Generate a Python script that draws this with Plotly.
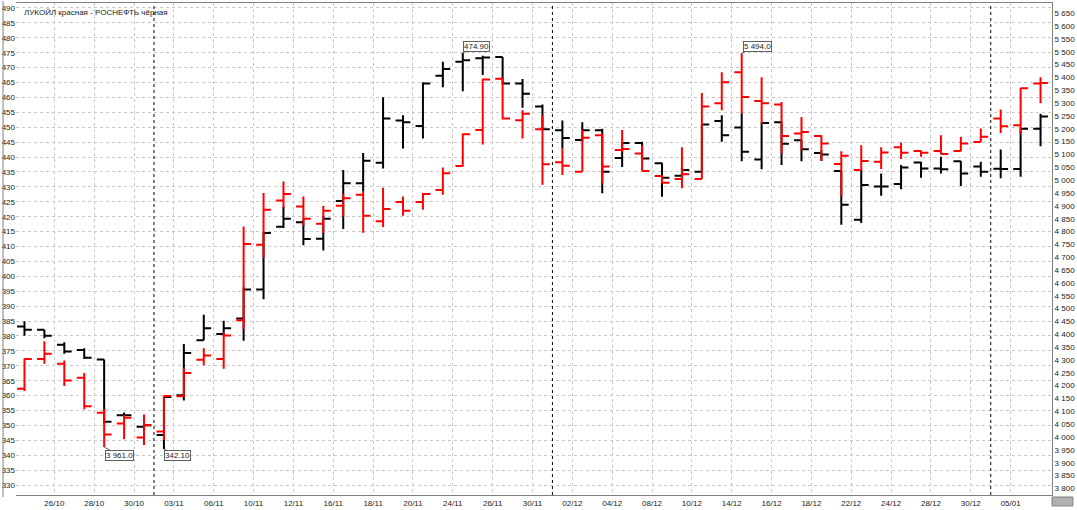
import plotly.graph_objects as go

# ---- data ----
dates = ["22/10", "23/10", "26/10", "27/10", "28/10", "29/10", "30/10", "02/11", "03/11", "05/11",
         "06/11", "09/11", "10/11", "11/11", "12/11", "13/11", "16/11", "17/11", "18/11", "19/11",
         "20/11", "23/11", "24/11", "25/11", "26/11", "27/11", "30/11", "01/12", "02/12", "03/12",
         "04/12", "07/12", "08/12", "09/12", "10/12", "11/12", "14/12", "15/12", "16/12", "17/12",
         "18/12", "21/12", "22/12", "23/12", "24/12", "25/12", "28/12", "29/12", "30/12", "04/01",
         "05/01", "06/01"]

# РОСНЕФТЬ (black, left axis)
ros_open = [383.2, 382.1, 377.1, 375.3, 372.1, 353.4, 349.6, 346.8, 360.1, 378.6,
            380.7, 385.9, 395.6, 416.6, 418.1, 412.6, 425.3, 431.2, 438.1, 452.3,
            450.4, 467.3, 472.0, 473.1, 473.6, 464.7, 457.0, 449.0, 445.7, 449.0,
            439.7, 444.7, 437.9, 433.7, 435.1, 452.1, 449.9, 439.2, 451.7, 445.6,
            441.4, 435.3, 419.0, 430.1, 431.0, 438.2, 436.2, 438.6, 436.8, 436.1,
            436.0, 449.5]
ros_high = [384.9, 382.1, 377.9, 375.9, 372.1, 354.3, 351.2, 359.7, 377.3, 387.1,
            385.1, 396.3, 414.8, 423.3, 419.0, 420.3, 435.7, 441.4, 460.1, 454.0,
            465.1, 472.0, 474.9, 474.0, 473.6, 466.2, 457.6, 452.3, 451.7, 449.5,
            445.1, 445.1, 438.1, 436.3, 451.0, 454.0, 454.7, 451.6, 451.9, 445.6,
            442.3, 435.5, 436.0, 434.5, 437.3, 438.4, 440.1, 438.7, 438.4, 442.5,
            449.7, 454.5]
ros_low = [380.1, 379.2, 374.0, 372.3, 350.6, 352.7, 349.2, 342.1, 358.4, 378.6,
           380.7, 378.4, 392.3, 416.2, 410.4, 408.7, 415.9, 428.4, 436.2, 442.9,
           446.2, 463.4, 462.1, 467.5, 464.3, 456.5, 449.0, 442.9, 445.3, 427.9,
           436.7, 439.5, 426.7, 432.3, 435.0, 445.1, 438.6, 435.9, 437.3, 438.6,
           438.7, 417.3, 417.9, 427.0, 429.2, 433.1, 434.5, 430.3, 433.4, 432.9,
           433.4, 443.6]
ros_close = [382.1, 380.1, 374.8, 372.7, 351.2, 353.4, 350.1, 359.5, 374.3, 382.6,
             382.6, 395.6, 414.5, 419.3, 412.5, 419.3, 431.2, 438.8, 452.9, 451.7,
             464.7, 469.5, 472.5, 473.4, 464.7, 461.2, 449.3, 446.4, 449.0, 435.1,
             444.7, 439.5, 433.1, 435.7, 450.9, 447.3, 441.8, 451.4, 444.5, 442.6,
             440.9, 424.0, 430.6, 430.1, 436.5, 436.2, 435.9, 434.5, 435.1, 436.0,
             449.5, 453.6]

# ЛУКОЙЛ (red, right axis)
luk_open = [4188, 4304, 4285, 4231, 4094, 4053, 3998, 4021, 4159, 4301,
            4304, 4455, 4749, 4921, 4898, 4830, 4900, 4943, 4840, 4915,
            4915, 4962, 5055, 5195, 5395, 5233, 5198, 5070, 5033, 5175,
            5118, 5104, 5016, 5005, 5005, 5300, 5420, 5308, 5295, 5182,
            5172, 5063, 5040, 5072, 5128, 5114, 5114, 5114, 5149, 5240,
            5214, 5376]
luk_high = [4307, 4373, 4298, 4249, 4108, 4085, 4088, 4162, 4268, 4346,
            4408, 4820, 4950, 4995, 4936, 4900, 4947, 4956, 4971, 4936,
            4950, 5049, 5182, 5395, 5397, 5272, 5253, 5124, 5195, 5182,
            5195, 5136, 5018, 5128, 5339, 5420, 5494, 5401, 5304, 5246,
            5175, 5113, 5136, 5128, 5147, 5117, 5175, 5169, 5201, 5275,
            5360, 5401]
luk_low = [4179, 4285, 4199, 4108, 3961, 3991, 3969, 3988, 4156, 4279,
           4266, 4421, 4698, 4892, 4821, 4795, 4859, 4795, 4818, 4862,
           4885, 4943, 5053, 5139, 5236, 5162, 4982, 5020, 5033, 4988,
           5111, 5036, 4988, 4969, 5005, 5272, 5259, 5220, 5104, 5117,
           5075, 4936, 5040, 5044, 5082, 5091, 5101, 5113, 5149, 5184,
           5182, 5300]
luk_close = [4304, 4324, 4220, 4120, 4010, 4075, 4046, 4160, 4249, 4317,
             4395, 4752, 4885, 4946, 4850, 4881, 4930, 4862, 4888, 4881,
             4946, 5027, 5179, 5392, 5240, 5259, 5062, 5056, 5165, 5053,
             5121, 5036, 4990, 5023, 5287, 5381, 5324, 5300, 5172, 5188,
             5143, 5095, 5075, 5108, 5107, 5107, 5102, 5143, 5169, 5210,
             5358, 5378]

left_ticks = list(range(330, 491, 5))
right_ticks = list(range(3800, 5651, 50))
month_starts = ["02/11", "01/12", "04/01"]

# ---- figure ----
idx = list(range(len(dates)))
FONT = "Liberation Sans Narrow, Liberation Sans, Arial, sans-serif"

fig = go.Figure()
fig.add_trace(go.Ohlc(
    x=idx, open=ros_open, high=ros_high, low=ros_low, close=ros_close,
    increasing=dict(line=dict(color="#000000", width=2)),
    decreasing=dict(line=dict(color="#000000", width=2)),
    tickwidth=0.37, yaxis="y", hoverinfo="skip", name="РОСНЕФТЬ"))
fig.add_trace(go.Ohlc(
    x=idx, open=luk_open, high=luk_high, low=luk_low, close=luk_close,
    increasing=dict(line=dict(color="#ff0000", width=2)),
    decreasing=dict(line=dict(color="#ff0000", width=2)),
    tickwidth=0.37, yaxis="y2", hoverinfo="skip", name="ЛУКОЙЛ"))

tick_idx = [i for i in idx if i % 2 == 0 and i >= 2]
fig.update_xaxes(
    range=[-0.425, 51.575], tickmode="array",
    tickvals=[i - 0.5 for i in tick_idx], ticktext=[dates[i] for i in tick_idx],
    showgrid=True, gridcolor="#c8c8c8", griddash="dot", gridwidth=1,
    showline=True, linecolor="#808080", linewidth=1, mirror=True,
    ticks="", zeroline=False, rangeslider=dict(visible=False),
    tickfont=dict(family=FONT, size=8, color="#222222"))

fig.update_layout(
    yaxis=dict(range=[326.67, 491.67], tickmode="array", tickvals=left_ticks,
               ticktext=[str(v) for v in left_ticks],
               showgrid=True, gridcolor="#c8c8c8", griddash="dot", gridwidth=1,
               zeroline=False, ticks="", showline=False, ticklabeloverflow="allow",
               tickfont=dict(family=FONT, size=8, color="#222222")),
    yaxis2=dict(range=[3774.2, 5689.9], overlaying="y", side="right",
                tickmode="array", tickvals=right_ticks,
                ticktext=[f"{v // 1000} {v % 1000:03d}" for v in right_ticks],
                showgrid=False, zeroline=False, ticks="", ticklabeloverflow="allow",
                showline=True, linecolor="#808080", linewidth=1,
                tickfont=dict(family=FONT, size=8, color="#222222")),
    width=1077, height=510,
    margin=dict(l=14, r=23, t=2, b=13),
    paper_bgcolor="white", plot_bgcolor="white",
    showlegend=False,
)

# month separators
for d in month_starts:
    xm = dates.index(d) - 0.5
    fig.add_shape(type="line", xref="x", yref="paper", x0=xm, x1=xm, y0=0, y1=1,
                  line=dict(color="#000000", width=1, dash="dot"))

# left frame line
fig.add_shape(type="line", xref="paper", yref="paper", x0=-13 / 1040, x1=-13 / 1040,
              y0=-0.004, y1=1.004, line=dict(color="#808080", width=1))
# small box bottom right
fig.add_shape(type="rect", xref="paper", yref="paper", x0=(1054 - 14) / 1040,
              x1=(1075 - 14) / 1040, y0=-2 / 495, y1=-11 / 495,
              fillcolor="#b0b0b0", line=dict(color="#808080", width=1))

# title
fig.add_annotation(text="ЛУКОЙЛ красная - РОСНЕФТЬ чёрная", xref="paper", yref="paper",
                   x=(20 - 14) / 1040, y=1 - 3 / 495, xanchor="left", yanchor="top",
                   showarrow=False, font=dict(family=FONT, size=8, color="#222222"))

# value labels
def label(i, val, yref, text, ax, ay):
    fig.add_annotation(x=i, y=val, yref=yref, text=text, showarrow=True,
                       arrowhead=0, arrowwidth=1, arrowcolor="#606060",
                       ax=ax, ay=ay, bgcolor="white", bordercolor="#606060",
                       borderwidth=1, borderpad=0,
                       font=dict(family=FONT, size=8, color="#222222"))

i_lmin = luk_low.index(min(luk_low))
i_lmax = luk_high.index(max(luk_high))
i_rmin = ros_low.index(min(ros_low))
i_rmax = ros_high.index(max(ros_high))
label(i_lmin, luk_low[i_lmin], "y2", f"{int(luk_low[i_lmin]) // 1000} {int(luk_low[i_lmin]) % 1000:03d}.0", 15, 8)
label(i_rmin, ros_low[i_rmin], "y", f"{ros_low[i_rmin]:.2f}", 14, 7)
label(i_rmax, ros_high[i_rmax], "y", f"{ros_high[i_rmax]:.2f}", 14, -7)
label(i_lmax, luk_high[i_lmax], "y2", f"{int(luk_high[i_lmax]) // 1000} {int(luk_high[i_lmax]) % 1000:03d}.0", 16, -7)

fig.write_html("out.html", config={"displayModeBar": False},
               post_script="document.body.style.margin='0';")
